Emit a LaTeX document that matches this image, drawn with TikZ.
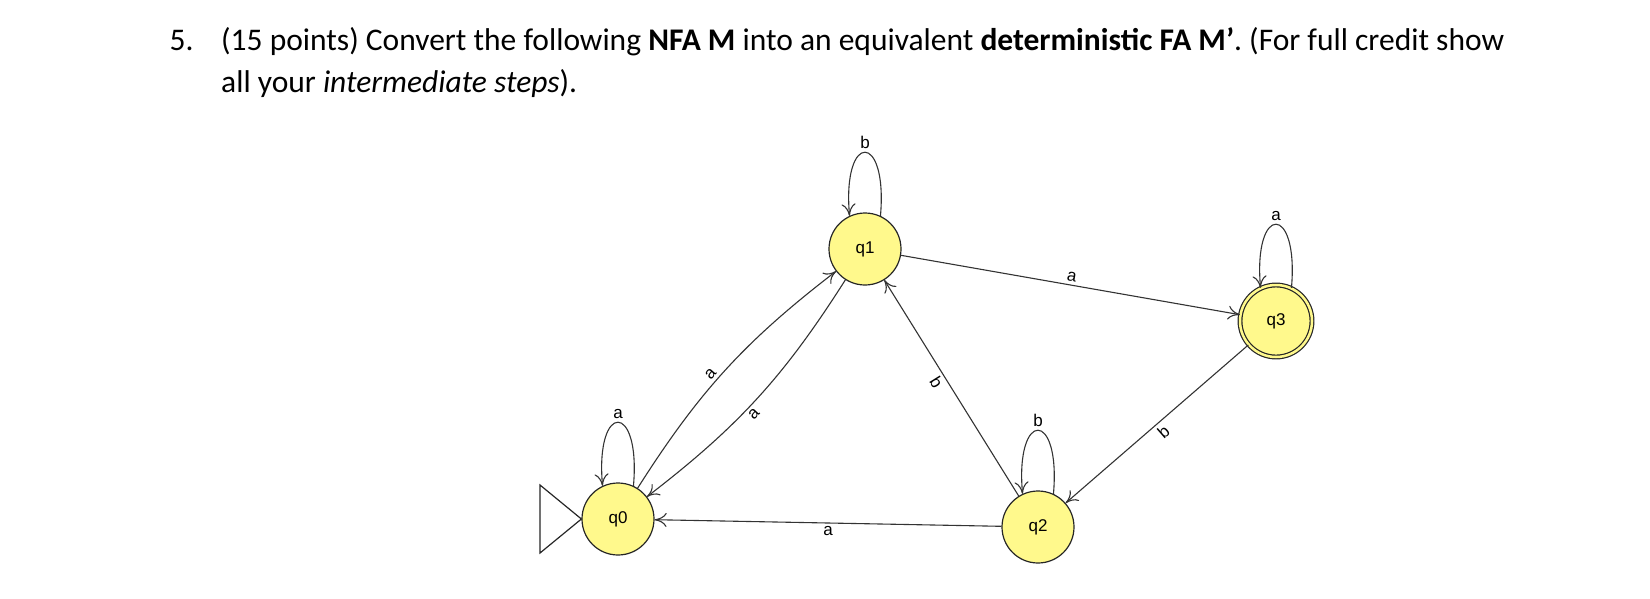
\documentclass[tikz,border=0pt]{standalone}
\usepackage{fontspec}
\setmainfont{Carlito}
\newfontfamily\jflap{Liberation Sans}
\usetikzlibrary{arrows.meta}

\begin{document}
\begin{tikzpicture}[x=1pt,y=-1pt,
  state/.style={circle,draw=black!85,line width=1.2pt,fill=yellow!45,minimum size=72pt,inner sep=0pt,font=\jflap\fontsize{17}{17}\selectfont},
  accept/.style={state,double=yellow!45,double distance=2.5pt},
  edge/.style={draw=black!80,line width=1.1pt,-{To[length=12pt,width=14pt]}},
  lbl/.style={font=\jflap\fontsize{17}{17}\selectfont,inner sep=3pt}]
\useasboundingbox (0,0) rectangle (1650,598);
% question text
\node[anchor=base west,font=\fontsize{31.5}{36}\selectfont] (num) at (166,50) {5.};
\node[anchor=base west,font=\fontsize{31.5}{36}\selectfont,inner sep=0pt] (qtext) at (221,50)
  {(15 points) Convert the following \textbf{NFA M} into an equivalent \textbf{deterministic FA M’}. (For full credit show};
\node[anchor=base west,font=\fontsize{31.5}{36}\selectfont,inner sep=0pt] (qtext2) at (221,92)
  {all your \textit{intermediate steps}).};
% states
\node[state] (q0) at (618,519) {q0};
\node[state] (q1) at (865,249) {q1};
\node[state] (q2) at (1038,527) {q2};
\node[accept] (q3) at (1276,321) {q3};
% initial marker
\draw[black!85,line width=1.2pt] (q0.west) -- (540,485) -- (540,553) -- cycle;
% transitions
\draw[edge] (q0) to[bend left=10] node[lbl,sloped,above,pos=0.45] {a} (q1);
\draw[edge] (q1) to[bend left=10] node[lbl,sloped,below,pos=0.55] {a} (q0);
\draw[edge] (q1) -- node[lbl,sloped,above] {a} (q3);
\draw[edge] (q3) -- node[lbl,sloped,below] {b} (q2);
\draw[edge] (q2) -- node[lbl,sloped,below,pos=0.55] {b} (q1);
\draw[edge] (q2) -- node[lbl,below] {a} (q0);
% loops
\draw[edge] (q0.65) .. controls +(85:85pt) and +(95:85pt) .. node[lbl,above] {a} (q0.115);
\draw[edge] (q1.65) .. controls +(85:85pt) and +(95:85pt) .. node[lbl,above] {b} (q1.115);
\draw[edge] (q2.65) .. controls +(85:85pt) and +(95:85pt) .. node[lbl,above] {b} (q2.115);
\draw[edge] (q3.65) .. controls +(85:85pt) and +(95:85pt) .. node[lbl,above] {a} (q3.115);
\end{tikzpicture}
\end{document}
